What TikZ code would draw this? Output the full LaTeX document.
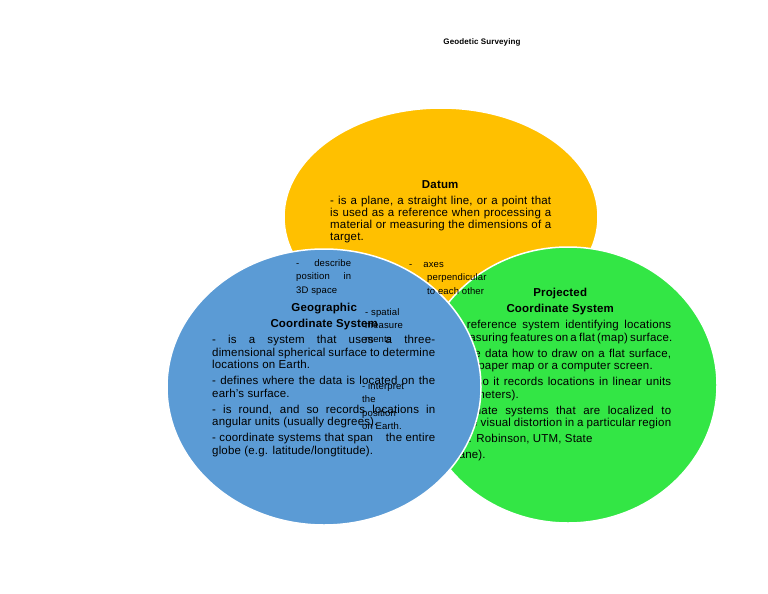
\documentclass[tikz,border=0pt]{standalone}
\usepackage{fontspec}
\setmainfont{Liberation Sans}[LetterSpace=1.5]
\definecolor{orng}{HTML}{FFC000}
\definecolor{grn}{HTML}{33E645}
\definecolor{blu}{HTML}{5B9BD5}
\hyphenpenalty=10000
\begin{document}
\begin{tikzpicture}[x=1pt,y=-1pt,
  circ/.style={draw=white,line width=1.5pt},
  body/.style={inner sep=0pt,anchor=north west,align=justify},
  small/.style={inner sep=0pt,anchor=north west,align=left}]
\useasboundingbox (0,0) rectangle (768,594);
\node[font=\fontsize{8}{9}\selectfont\bfseries] (title) at (482,42) {Geodetic Surveying};
\filldraw[circ,fill=orng] (441,217) ellipse [x radius=157,y radius=109];
\filldraw[circ,fill=grn] (568,385) ellipse [x radius=149,y radius=138];
\node[body] (ptitle) at (490,288) {\parbox{140pt}{\fontsize{11.5}{16}\selectfont\centering\bfseries Projected\\ Coordinate System}};
\node[body] (ptext) at (431,320) {\parbox{240pt}{\fontsize{11.5}{12.5}\selectfont\hyphenpenalty=10000\setlength{\parskip}{3.5pt}
- is a reference system identifying locations and measuring features on a flat (map) surface.\par
- tells the data how to draw on a flat surface, like on a paper map or a computer screen.\par
- is flat, so it records locations in linear units (usually meters).\par
- coordinate systems that are localized to minimize visual distortion in a particular region\par
\raggedright\hspace*{17pt}(e.g. Robinson, UTM, State\par
\hspace*{17pt}Plane).}};
\filldraw[circ,fill=blu] (324,387) ellipse [x radius=157,y radius=138];
\node[body] (gtitle) at (254,303) {\parbox{140pt}{\fontsize{11.5}{16}\selectfont\centering\bfseries Geographic\\ Coordinate System}};
\node[body] (gtext) at (212,335) {\parbox{223pt}{\fontsize{11.5}{12.5}\selectfont\hyphenpenalty=10000\setlength{\parskip}{3.5pt}
- is a system that uses a three-\linebreak dimensional spherical surface to determine locations on Earth.\par
- defines where the data is located on the earh's surface.\par
- is round, and so records locations in angular units (usually degrees).\par
- coordinate systems that span\hfill the entire globe (e.g. latitude/longtitude).\par}};
\node[body] (dtitle) at (370,180) {\parbox{140pt}{\fontsize{11.5}{12}\selectfont\centering\bfseries Datum}};
\node[body] (dtext) at (330,196) {\parbox{221pt}{\fontsize{11.5}{12}\selectfont\hyphenpenalty=10000
- is a plane, a straight line, or a point that is used as a reference when processing a material or measuring the dimensions of a target.}};
\node[small] (s1) at (296,259) {\parbox{55pt}{\fontsize{9.5}{13.5}\selectfont -\hfill describe\\ position\hfill in\\ 3D space}};
\node[small] (s2) at (409,262) {\parbox{90pt}{\fontsize{9.5}{13.5}\selectfont -\hspace{11pt}axes\\ \hspace*{18pt}perpendicular\\ \hspace*{18pt}to each other}};
\node[small] (s3) at (365,308) {\parbox{45pt}{\fontsize{9.5}{13.5}\selectfont - spatial\\ measure\\ ments}};
\node[small] (s4) at (362,382) {\parbox{45pt}{\fontsize{9.5}{13.5}\selectfont - interpret\\ the\\ position\\ on Earth.}};
\end{tikzpicture}
\end{document}
